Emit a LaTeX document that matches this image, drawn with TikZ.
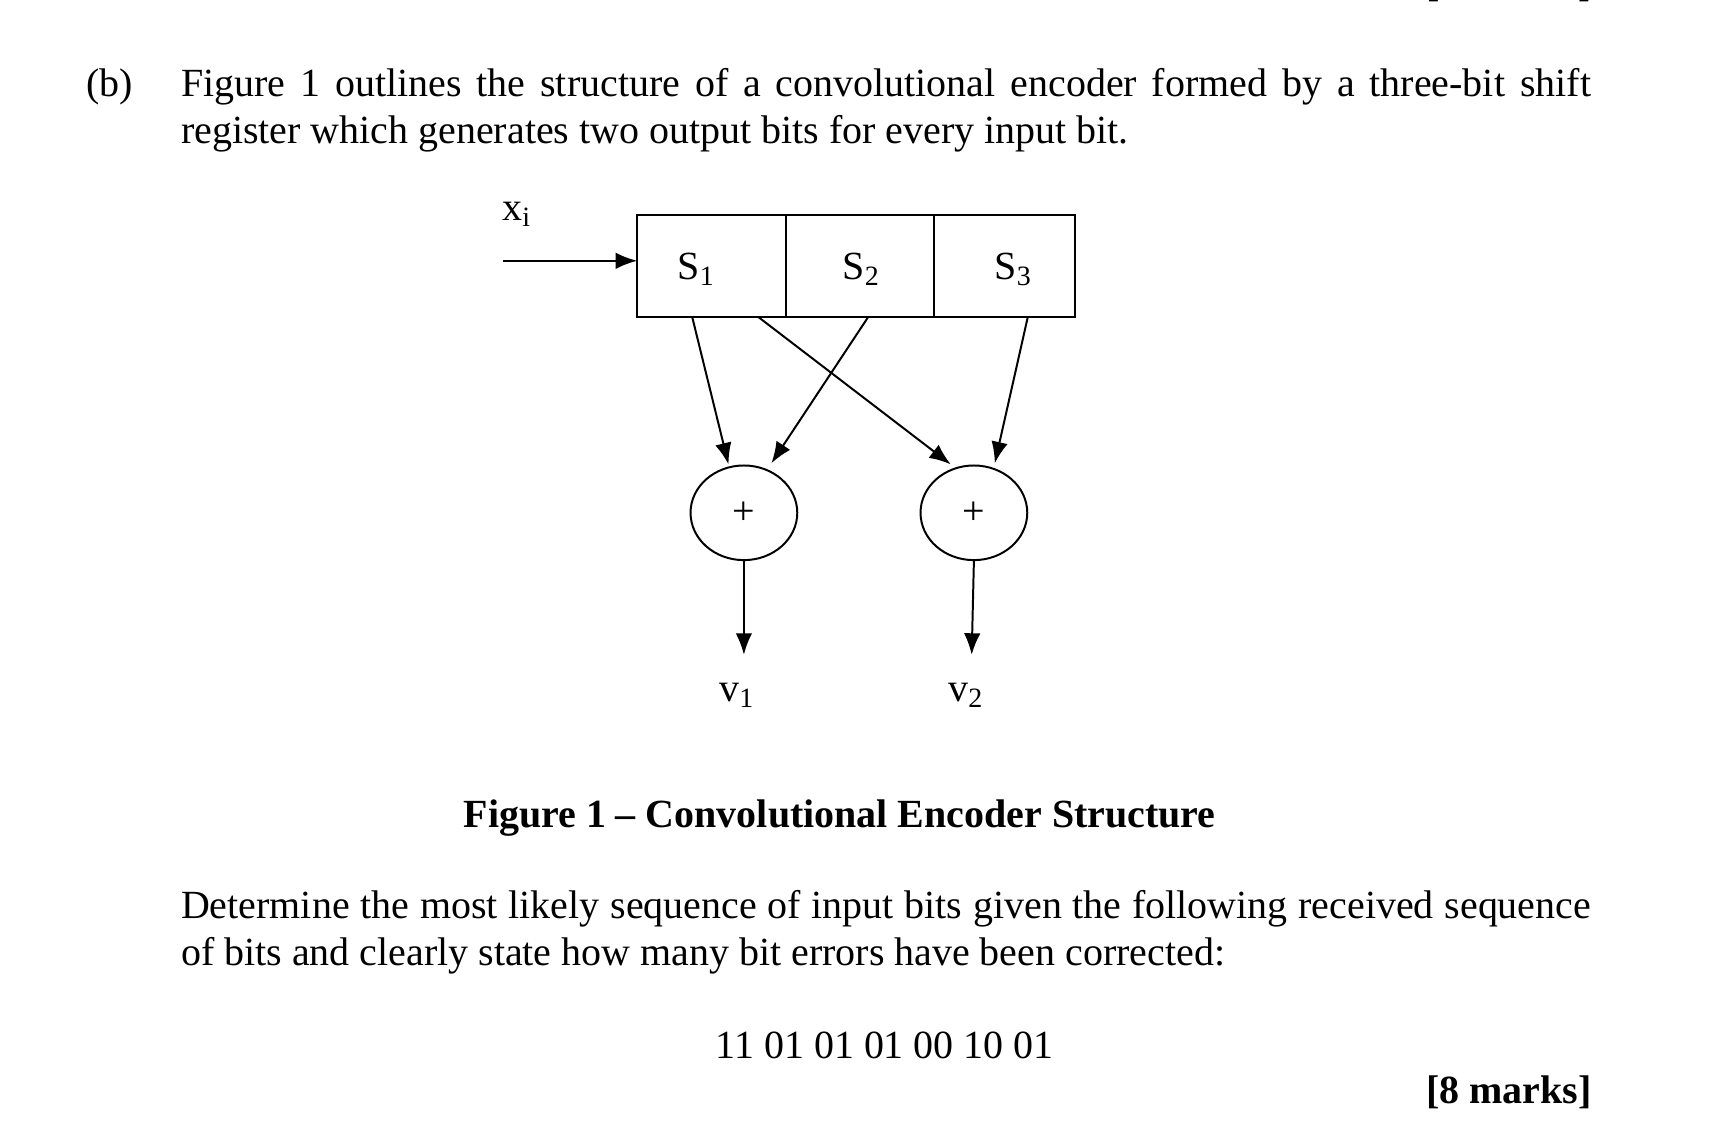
\documentclass[tikz,border=0pt]{standalone}
\usepackage{fontspec}
\setmainfont{Liberation Serif}
\usetikzlibrary{arrows.meta,shapes.geometric}
\begin{document}
\begin{tikzpicture}[x=0.3333pt,y=-0.3333pt,
  every node/.style={inner sep=0pt,font=\fontsize{12.1}{14}\selectfont},
  arr/.style={-{Latex[length=6.5pt,width=5pt]},line width=0.6pt},
  xorn/.style={draw,ellipse,minimum width=97*0.3333pt,minimum height=86*0.3333pt,line width=0.6pt}]
\useasboundingbox (0,0) rectangle (1563,1019);
\begin{scope}
\clip (0,0) rectangle (1563,1019);
\node[anchor=base east,font=\fontsize{12.1}{14}\selectfont\bfseries] (m5) at (1447,-3) {[5 marks]};
\end{scope}
\node[anchor=base west] (b) at (78,88) {(b)};
\node[anchor=base west,text width=427pt,align=justify] (p1) at (164,88) {Figure 1 outlines the structure of a convolutional encoder formed by a three-bit shift register which generates two output bits for every input bit.};
% register
\draw[line width=0.6pt] (579,195) rectangle (977,288);
\draw[line width=0.6pt] (714,195) -- (714,288) (849,195) -- (849,288);
\node (s1) at (633,245) {S\textsubscript{1}};
\node (s2) at (783,245) {S\textsubscript{2}};
\node (s3) at (921,245) {S\textsubscript{3}};
\node (xi) at (470,195) {x\textsubscript{i}};
\coordinate (xin) at (457,237);
\coordinate (xto) at (579,237);
\draw[arr] (xin) -- (xto);
\node[xorn] (a1) at (676,466) {+};
\node[xorn] (a2) at (885,466) {+};
\coordinate (t1) at (629,288); \coordinate (t2) at (789,288);
\coordinate (t3) at (689,288); \coordinate (t4) at (934,288);
\draw[arr] (t1) -- (662,422);
\draw[arr] (t2) -- (701,421);
\draw[arr] (t3) -- (864,422);
\draw[arr] (t4) -- (904,421);
\coordinate (o1) at (676,595); \coordinate (o2) at (883,595);
\draw[arr] (a1.south) -- (o1);
\draw[arr] (a2.south) -- (o2);
\node (v1) at (670,632) {v\textsubscript{1}};
\node (v2) at (878,632) {v\textsubscript{2}};
\node[anchor=base,font=\fontsize{12.1}{14}\selectfont\bfseries] (cap) at (763,752) {Figure 1 – Convolutional Encoder Structure};
\node[anchor=base west,text width=427pt,align=justify] (p2) at (164,835) {Determine the most likely sequence of input bits given the following received sequence of bits and clearly state how many bit errors have been corrected:};
\node[anchor=base] (seq) at (804,962) {11 01 01 01 00 10 01};
\node[anchor=base east,font=\fontsize{12.1}{14}\selectfont\bfseries] (m8) at (1447,1003) {[8 marks]};
\end{tikzpicture}
\end{document}
